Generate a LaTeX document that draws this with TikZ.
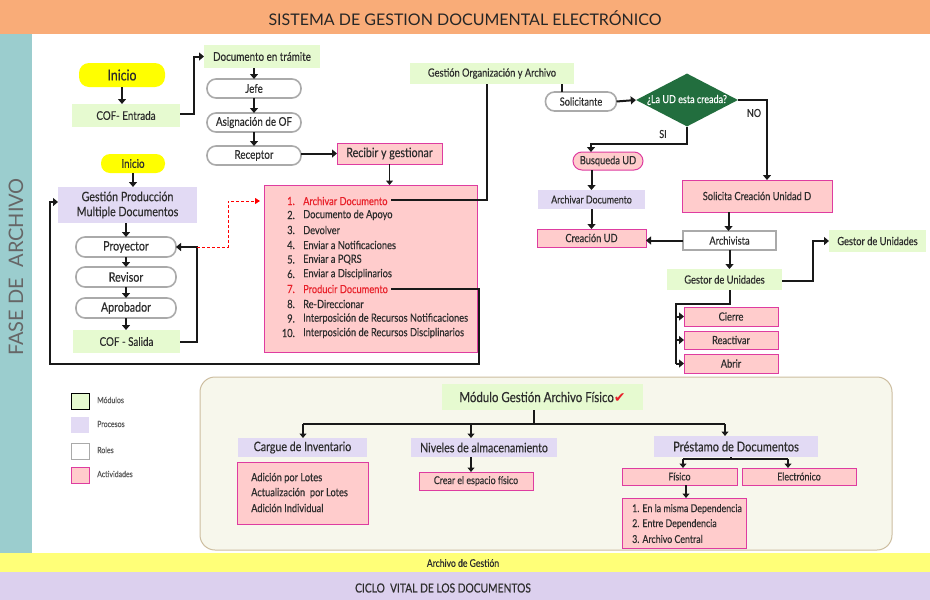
\documentclass[tikz,border=0pt]{standalone}
\usepackage{fontspec}
\setmainfont{Lato}[FakeStretch=0.82,FakeBold=0.3]
\newfontfamily\widefont{Lato}
\newfontfamily\symfont{DejaVu Sans}
\usetikzlibrary{arrows.meta,shapes.geometric,calc}
\definecolor{topor}{RGB}{249,172,120}
\definecolor{tealbar}{RGB}{155,205,206}
\definecolor{ystrip}{RGB}{255,255,120}
\definecolor{lstrip}{RGB}{220,208,238}
\definecolor{modg}{RGB}{230,250,208}
\definecolor{procl}{RGB}{226,218,244}
\definecolor{actp}{RGB}{255,204,204}
\definecolor{actb}{RGB}{222,60,160}
\definecolor{roleg}{RGB}{170,170,170}
\definecolor{txt}{RGB}{45,45,45}
\definecolor{redt}{RGB}{232,32,42}
\definecolor{diag}{RGB}{34,110,62}
\definecolor{panelf}{RGB}{247,247,236}
\definecolor{panelb}{RGB}{205,190,160}
\definecolor{iniy}{RGB}{255,255,0}
\definecolor{legt}{RGB}{90,90,90}
\newcommand\fs[2]{\fontsize{#1}{#2}\selectfont}
\begin{document}
\begin{tikzpicture}[x=1pt,y=-1pt,
  base/.style={inner sep=0pt, outer sep=0pt, text=txt, align=center, font=\fs{12}{14}},
  mod/.style={base, rectangle, fill=modg},
  proc/.style={base, rectangle, fill=procl},
  act/.style={base, rectangle, fill=actp, draw=actb, line width=0.8pt},
  role/.style={base, rectangle, rounded corners=9pt, draw=roleg, line width=1.6pt, fill=white},
  ini/.style={base, rectangle, fill=iniy, rounded corners=10pt},
  item/.style={inner sep=0pt, text=txt, font=\fs{11.3}{13}},
  conn/.style={line width=2pt, black!90},
  arr/.style={conn, -{Triangle[length=5pt,width=8pt]}},
  thin/.style={line width=1.6pt, black!90},
  tarr/.style={thin, -{Triangle[length=4.5pt,width=7pt]}},
  leg/.style={inner sep=0pt, text=legt, font=\fs{8.5}{10}, anchor=west}
]
\useasboundingbox (0,0) rectangle (930,600);
% background bands
\fill[white] (0,0) rectangle (930,600);
\fill[topor] (0,0) rectangle (930,34);
\fill[tealbar] (0,34) rectangle (32,553);
\fill[ystrip] (0,553) rectangle (930,572);
\fill[lstrip] (0,572) rectangle (930,600);
\node[base, font=\widefont\fs{16}{18}, text=black!85] (title) at (465,18) {SISTEMA DE GESTION DOCUMENTAL ELECTRÓNICO};
\node[base, font=\widefont\fs{20}{22}, text=black!60, rotate=90] (fase) at (16,267) {FASE DE\ \ ARCHIVO};
\node[base, font=\fs{10.5}{12}] (agest) at (463,563) {Archivo de Gestión};
\node[base, font=\fs{12.5}{14}] (ciclo) at (443,588) {CICLO\ \ VITAL DE LOS DOCUMENTOS};

% ---------- left column
\node[ini, minimum width=86pt, minimum height=24pt, font=\fs{15}{17}] (ini1) at (122,75) {Inicio};
\node[mod, minimum width=108pt, minimum height=23pt] (cofE) at (126,115.5) {COF- Entrada};
\node[mod, minimum width=116pt, minimum height=23pt] (docT) at (262,56.5) {Documento en trámite};
\node[role, minimum width=94pt, minimum height=19pt] (jefe) at (254,88.5) {Jefe};
\node[role, minimum width=94pt, minimum height=19pt] (asig) at (254,122.5) {Asignación de OF};
\node[role, minimum width=94pt, minimum height=19pt] (rece) at (254,155.5) {Receptor};
\node[act, minimum width=105pt, minimum height=21pt, font=\fs{13}{15}] (recib) at (389.5,153.5) {Recibir y gestionar};

\node[ini, minimum width=64pt, minimum height=19pt, rounded corners=9pt] (ini2) at (133,163.5) {Inicio};
\node[proc, minimum width=139pt, minimum height=36pt, font=\fs{13}{15}] (gprod) at (127.5,205) {Gestión Producción\\Multiple Documentos};
\node[role, minimum width=100pt, minimum height=20pt, font=\fs{13}{15}] (proy) at (126,247) {Proyector};
\node[role, minimum width=100pt, minimum height=20pt, font=\fs{13}{15}] (revi) at (126,277) {Revisor};
\node[role, minimum width=100pt, minimum height=20pt, font=\fs{13}{15}] (apro) at (126,308) {Aprobador};
\node[mod, minimum width=107pt, minimum height=23pt] (cofS) at (126.5,341.5) {COF - Salida};

% big activity list
\node[act, minimum width=213pt, minimum height=167pt] (list) at (370.5,268.5) {};
\foreach \i/\y/\t/\c in {1/201/Archivar Documento/redt, 2/215/Documento de Apoyo/txt, 3/230/Devolver/txt,
  4/245/Enviar a Notificaciones/txt, 5/259.5/Enviar a PQRS/txt, 6/274/Enviar a Disciplinarios/txt,
  7/289/Producir Documento/redt, 8/304/Re-Direccionar/txt, 9/318.5/Interposición de Recursos Notificaciones/txt,
  10/333/Interposición de Recursos Disciplinarios/txt}{
  \node[item, anchor=east, text=\c] (num\i) at (295,\y) {\i.};
  \node[item, anchor=west, text=\c] (it\i) at (303,\y) {\t};
}

\node[mod, minimum width=164pt, minimum height=21pt, font=\fs{11.3}{13}] (gorg) at (492,73.5) {Gestión Organización y Archivo};

% ---------- right side
\node[role, minimum width=71pt, minimum height=19pt, font=\fs{11.3}{13}] (soli) at (581,101.5) {Solicitante};
\node[diamond, fill=diag, minimum width=102pt, minimum height=53pt, inner sep=0pt] (dia) at (687,100) {};
\node[base, text=white, font=\fs{11}{13}] (diat) at (dia.center) {¿La UD esta creada?};
\node[base, font=\fs{11}{13}] (nolab) at (754,113) {NO};
\node[base, font=\fs{11}{13}] (silab) at (663,134) {SI};
\node[act, rounded corners=9pt, line width=1pt, minimum width=70pt, minimum height=18pt, font=\fs{11.3}{13}] (busq) at (608,161) {Busqueda UD};
\node[proc, minimum width=107pt, minimum height=19pt, font=\fs{10.8}{12}] (archD) at (591.5,199.5) {Archivar Documento};
\node[act, minimum width=109pt, minimum height=18pt, font=\fs{11.3}{13}] (creaUD) at (591.5,238) {Creación UD};
\node[act, minimum width=150pt, minimum height=32pt, font=\fs{11.3}{13}] (solC) at (757,196) {Solicita Creación Unidad D};
\node[base, draw=roleg, line width=1.6pt, fill=white, minimum width=93pt, minimum height=19pt, font=\fs{11.3}{13}] (archv) at (729.5,240.5) {Archivista};
\node[mod, minimum width=115pt, minimum height=21pt, font=\fs{11.3}{13}] (gestU) at (724.5,279.5) {Gestor de Unidades};
\node[mod, minimum width=97pt, minimum height=22pt, font=\fs{11.3}{13}] (gestU2) at (877.5,241) {Gestor de Unidades};
\node[act, minimum width=94pt, minimum height=19pt, font=\fs{11.3}{13}] (cierre) at (731,316.5) {Cierre};
\node[act, minimum width=94pt, minimum height=18pt, font=\fs{11.3}{13}] (reac) at (731,340) {Reactivar};
\node[act, minimum width=94pt, minimum height=19pt, font=\fs{11.3}{13}] (abrir) at (731,363.5) {Abrir};

% ---------- legend
\node[base, fill=modg, draw=black, line width=1pt, minimum width=18pt, minimum height=16pt] (lg1) at (80,401) {};
\node[base, fill=procl, minimum width=18pt, minimum height=16pt] (lg2) at (80,425) {};
\node[base, fill=white, draw=roleg, line width=0.8pt, minimum width=18pt, minimum height=16pt] (lg3) at (80,451) {};
\node[act, minimum width=18pt, minimum height=16pt] (lg4) at (80,475) {};
\node[leg] (lt1) at (97,400) {Módulos};
\node[leg] (lt2) at (97,424) {Procesos};
\node[leg] (lt3) at (97,450) {Roles};
\node[leg] (lt4) at (97,474) {Actividades};

% ---------- bottom panel
\draw[fill=panelf, draw=panelb, line width=1pt, rounded corners=15pt] (200,377) rectangle (892,550);
\node[mod, minimum width=201pt, minimum height=26pt, font=\fs{14}{16}] (modF) at (542.5,397) {Módulo Gestión Archivo Físico{\symfont\color{redt}\fs{14}{15}✔}};
\node[proc, minimum width=129pt, minimum height=19pt, font=\fs{13}{15}] (cargue) at (302.5,447.5) {Cargue de Inventario};
\node[act, minimum width=131pt, minimum height=62pt] (cargL) at (302.5,493) {};
\node[item, anchor=west] (cl1) at (251,478) {Adición por Lotes};
\node[item, anchor=west] (cl2) at (251,493) {Actualización\ \ por Lotes};
\node[item, anchor=west] (cl3) at (251,508) {Adición Individual};
\node[proc, minimum width=146pt, minimum height=19pt, font=\fs{13}{15}] (nivel) at (484,447.5) {Niveles de almacenamiento};
\node[act, minimum width=114pt, minimum height=18pt, font=\fs{10.8}{12}] (crear) at (476,481) {Crear el espacio físico};
\node[proc, minimum width=164pt, minimum height=21pt, font=\fs{13.5}{15}] (prest) at (736,446.5) {Préstamo de Documentos};
\node[act, minimum width=115pt, minimum height=17pt, font=\fs{10.8}{12}] (fis) at (679.5,476.5) {Físico};
\node[act, minimum width=114pt, minimum height=17pt, font=\fs{10.8}{12}] (elec) at (799,476.5) {Electrónico};
\node[act, minimum width=124pt, minimum height=50pt] (fisL) at (684,523) {};
\node[item, anchor=west, font=\fs{10.8}{12}] (fl1) at (632,509) {1. En la misma Dependencia};
\node[item, anchor=west, font=\fs{10.8}{12}] (fl2) at (632,524) {2. Entre Dependencia};
\node[item, anchor=west, font=\fs{10.8}{12}] (fl3) at (632,539) {3. Archivo Central};

% ---------- connectors left
\draw[arr] (ini1.south) -- (ini1.south |- cofE.north);
\draw[arr] ([yshift=2pt]cofE.east) -- ++(14,0) |- (docT.west);
\draw[arr] (jefe.north |- docT.south) -- (jefe.north);
\draw[arr] (jefe.south) -- (asig.north);
\draw[arr] (asig.south) -- (rece.north);
\draw[arr] ([yshift=2pt]rece.east) -- ([yshift=2pt]rece.east -| recib.west);
\draw[thin, -{Triangle[length=4.5pt,width=7pt]}] (recib.south) -- (recib.south |- list.north);
\draw[conn] ([xshift=-5pt]gorg.south) |- ([xshift=3pt,yshift=1pt]it1.east);
\draw[arr] ([xshift=3pt]it7.east) -| (479,364) -- (50,364) |- ([yshift=3pt]gprod.west);
\draw[arr] (ini2.south) -- (ini2.south |- gprod.north);
\draw[arr] (proy.north |- gprod.south) -- (proy.north);
\draw[arr] (proy.south) -- (revi.north);
\draw[arr] (revi.south) -- (apro.north);
\draw[arr] (apro.south) -- (apro.south |- cofS.north);
\coordinate (fb) at ([xshift=21pt]proy.east);
\draw[arr] (cofS.east) -| (fb) -- (proy.east);
\draw[red, line width=1pt, dash pattern=on 3pt off 2pt, -{Triangle[length=5pt,width=6pt]}] (fb) -- ++(31,0) |- ([xshift=-4pt]list.west |- it1.west);

% ---------- connectors right
\draw[conn] ([xshift=-19pt]soli.north) -- ([xshift=-19pt]soli.north |- gorg.south);
\draw[arr] (soli.east) -- (dia.west);
\draw[arr] (dia.east) -| ([xshift=10pt]solC.north);
\draw[arr] (dia.south) -- ++(0,17) -| ([xshift=-17pt]busq.north);
\draw[arr] (archD.north |- busq.south) -- (archD.north);
\draw[arr] (archD.south) -- (creaUD.north);
\draw[arr] ([xshift=-1pt]archv.north |- solC.south) -- ([xshift=-1pt]archv.north);
\draw[arr] (archv.west) -- (archv.west -| creaUD.east);
\draw[arr] (archv.south) -- (archv.south |- gestU.north);
\draw[arr] ([yshift=-1.5pt]gestU.east) -- ++(31,0) |- (gestU2.west);
\coordinate (bus) at (676,304);
\draw[conn] ([xshift=5pt]gestU.south) |- (bus) -- (bus |- abrir.west);
\draw[arr] (bus |- cierre.west) -- (cierre.west);
\draw[arr] (bus |- reac.west) -- (reac.west);
\draw[arr] (bus |- abrir.west) -- (abrir.west);

% ---------- connectors panel
\coordinate (hl) at (303,424);
\coordinate (hm) at (534,424);
\coordinate (hn) at (471,424);
\coordinate (hr) at (725,424);
\draw[thin] (hm |- modF.south) -- (hm);
\draw[thin] (hl) -- (hr);
\draw[tarr] (hl) -- (hl |- cargue.north);
\draw[tarr] (hn) -- (hn |- nivel.north);
\draw[tarr] (hr) -- (hr |- prest.north);
\draw[tarr] (hn |- nivel.south) -- (hn |- crear.north);
\coordinate (pl) at (683,459);
\coordinate (pm) at (731,459);
\coordinate (pr) at (788,459);
\draw[thin] (pm |- prest.south) -- (pm);
\draw[thin] (pl) -- (pr);
\draw[tarr] (pl) -- (pl |- fis.north);
\draw[tarr] (pr) -- (pr |- elec.north);
\draw[tarr] ([xshift=2pt]fisL.north |- fis.south) -- ([xshift=2pt]fisL.north);
\end{tikzpicture}
\end{document}
